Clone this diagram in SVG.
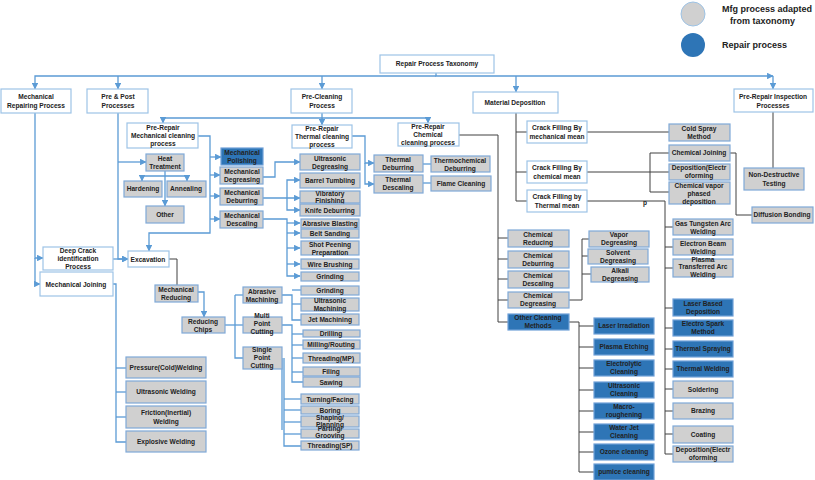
<svg xmlns="http://www.w3.org/2000/svg" width="815" height="480" viewBox="0 0 815 480">
<style>
rect{stroke-width:1.2}
.w{fill:#fff;stroke:#9dc3e6}
.g{fill:#d0d0d0;stroke:#7fa9d8}
.b{fill:#2e75b6;stroke:#6fa0d8}
text{font-family:"Liberation Sans",Arial,sans-serif;font-weight:bold;font-size:6.6px;fill:#222;text-anchor:middle}
.bl{fill:none;stroke:#5b9bd5;stroke-width:1.3}
.dk{fill:none;stroke:#404040;stroke-width:1}
.leg{font-size:9px;text-anchor:start}
</style>
<defs><marker id="a" viewBox="0 0 6 6" refX="5.5" refY="3" markerWidth="5" markerHeight="5" orient="auto"><path d="M0,0L6,3L0,6z" fill="#5b9bd5"/></marker></defs>
<g id="legend">
<circle cx="693" cy="14" r="12" fill="#d0d0d0" stroke="#9dc3e6"/>
<text class="leg" x="722" y="12">Mfg process adapted</text><text class="leg" x="730" y="24">from taxonomy</text>
<circle cx="693" cy="45" r="12" fill="#2e75b6"/>
<text class="leg" x="722" y="48">Repair process</text>
</g>
<g id="connectors">
<g class="bl" marker-end="url(#a)">
<path d="M436,73V76H773"/><path d="M436,76H35V89"/><path d="M118,76V89"/><path d="M322,76V89"/><path d="M516,76V92"/><path d="M773,76V89"/>
<path d="M322,113V118H163V123"/><path d="M322,118V125"/><path d="M322,118H428V123"/>
<path d="M35,113V258H43"/><path d="M35,258V284H40"/>
<path d="M118,113V259H128"/><path d="M113,259H128"/><path d="M118,162H146"/>
<path d="M165,171V206"/><path d="M142,176H187V181"/><path d="M142,176V181"/>
<path d="M198,136H210V233H149V251"/><path d="M210,157H221"/><path d="M210,175H220"/><path d="M210,196H220"/><path d="M210,219H220"/>
<path d="M263,177H275V162H300"/><path d="M263,198H300"/><path d="M287,198V180H300"/><path d="M287,198V210H300"/>
<path d="M263,219H287V276H300"/><path d="M287,223H300"/><path d="M287,233H300"/><path d="M287,248H300"/><path d="M287,264H300"/>
<path d="M352,136H365V163H374"/><path d="M365,163V184H374"/>
<path d="M198,292H204V317"/>
</g>
<g class="bl">
<path d="M423,164H431"/><path d="M423,183H431"/>
<path d="M225,325H235"/><path d="M235,295V358H243"/><path d="M235,295H243"/><path d="M235,325H243"/>
<path d="M282,295H292V320H301"/><path d="M292,290H301"/><path d="M292,304H301"/>
<path d="M282,325H292V382H303"/><path d="M292,334H303"/><path d="M292,345H303"/><path d="M292,358H303"/><path d="M292,372H303"/>
<path d="M282,358V430"/><path d="M284,358V446H301"/><path d="M284,399H301"/><path d="M284,410H301"/><path d="M284,422H301"/><path d="M284,434H301"/>
<path d="M113,284H116V442H126"/><path d="M116,368H126"/><path d="M116,392H126"/><path d="M116,417H126"/>
</g>
<g class="dk">
<path d="M169,259H177V285"/>
<path d="M516,113V201H527"/><path d="M516,132H527"/><path d="M516,172H527"/>
<path d="M587,132H669"/><path d="M587,172H669"/><path d="M650,153V192"/><path d="M650,153H669"/><path d="M650,192H669"/>
<path d="M730,153H736V215H752"/><path d="M773,112V168"/>
<path d="M587,201H665V454H673"/><path d="M665,227H673"/><path d="M665,247H673"/><path d="M665,268H673"/><path d="M665,308H673"/><path d="M665,328H673"/><path d="M665,349H673"/><path d="M665,369H673"/><path d="M665,389H673"/><path d="M665,411H673"/><path d="M665,434H673"/>
<path d="M459,135H498V322H508"/><path d="M498,238H508"/><path d="M498,259H508"/><path d="M498,279H508"/><path d="M498,300H508"/>
<path d="M569,300H582V239H589"/><path d="M582,256H588"/><path d="M582,274H591"/>
<path d="M569,322H579V472H594"/><path d="M579,326H594"/><path d="M579,347H594"/><path d="M579,368H594"/><path d="M579,390H594"/><path d="M579,411H594"/><path d="M579,432H594"/><path d="M579,452H594"/>
</g>
<text x="645" y="205">p</text>
</g>
<g id="n-root"><rect class="w" x="380" y="55" width="114" height="18"/><text x="437" y="66">Repair Process Taxonomy</text></g>
<g id="n-mrp"><rect class="w" x="1" y="89" width="70" height="24"/><text x="36" y="99">Mechanical</text><text x="36" y="108">Repairing Process</text></g>
<g id="n-pp"><rect class="w" x="87" y="89" width="61" height="24"/><text x="118" y="99">Pre &amp; Post</text><text x="118" y="108">Processes</text></g>
<g id="n-pc"><rect class="w" x="291" y="89" width="61" height="24"/><text x="322" y="99">Pre-Cleaning</text><text x="322" y="108">Process</text></g>
<g id="n-md"><rect class="w" x="473" y="92" width="85" height="21"/><text x="515" y="105">Material Deposition</text></g>
<g id="n-pri"><rect class="w" x="734" y="89" width="79" height="23"/><text x="773" y="99">Pre-Repair Inspection</text><text x="773" y="108">Processes</text></g>
<g id="n-pmc"><rect class="w" x="127" y="123" width="71" height="25"/><text x="163" y="130">Pre-Repair</text><text x="163" y="138">Mechanical cleaning</text><text x="163" y="146">process</text></g>
<g id="n-ptc"><rect class="w" x="292" y="125" width="60" height="23"/><text x="322" y="131">Pre-Repair</text><text x="322" y="139">Thermal cleaning</text><text x="322" y="147">process</text></g>
<g id="n-pcc"><rect class="w" x="398" y="123" width="61" height="23"/><text x="428" y="129">Pre-Repair</text><text x="428" y="137">Chemical</text><text x="428" y="145">cleaning process</text></g>
<g id="n-ht"><rect class="g" x="146" y="154" width="38" height="17"/><text x="165" y="161">Heat</text><text x="165" y="169">Treatment</text></g>
<g id="n-hard"><rect class="g" x="124" y="181" width="38" height="16"/><text x="143" y="191">Hardening</text></g>
<g id="n-ann"><rect class="g" x="167" y="181" width="39" height="16"/><text x="186" y="191">Annealing</text></g>
<g id="n-oth"><rect class="g" x="146" y="206" width="38" height="17"/><text x="165" y="217">Other</text></g>
<g id="n-mpol"><rect class="b" x="221" y="148" width="42" height="17"/><text x="242" y="155">Mechanical</text><text x="242" y="163">Polishing</text></g>
<g id="n-mdeg"><rect class="g" x="220" y="167" width="43" height="17"/><text x="242" y="174">Mechanical</text><text x="242" y="182">Degreasing</text></g>
<g id="n-mdeb"><rect class="g" x="220" y="188" width="43" height="17"/><text x="242" y="195">Mechanical</text><text x="242" y="203">Deburring</text></g>
<g id="n-mdes"><rect class="g" x="220" y="211" width="43" height="17"/><text x="242" y="218">Mechanical</text><text x="242" y="226">Descaling</text></g>
<g id="n-ud"><rect class="g" x="300" y="154" width="60" height="16"/><text x="330" y="161">Ultrasonic</text><text x="330" y="169">Degreasing</text></g>
<g id="n-bt"><rect class="g" x="300" y="173" width="60" height="15"/><text x="330" y="183">Barrel Tumbling</text></g>
<g id="n-vf"><rect class="g" x="300" y="191" width="60" height="12"/><text x="330" y="196">Vibratory</text><text x="330" y="203">Finishing</text></g>
<g id="n-kd"><rect class="g" x="300" y="204" width="60" height="12"/><text x="330" y="213">Knife Deburring</text></g>
<g id="n-ab"><rect class="g" x="301" y="219" width="58" height="9"/><text x="330" y="226">Abrasive Blasting</text></g>
<g id="n-bs"><rect class="g" x="301" y="229" width="58" height="9"/><text x="330" y="236">Belt Sanding</text></g>
<g id="n-sp"><rect class="g" x="301" y="241" width="58" height="14"/><text x="330" y="247">Shot Peening</text><text x="330" y="255">Preparation</text></g>
<g id="n-wb"><rect class="g" x="301" y="259" width="58" height="10"/><text x="330" y="267">Wire Brushing</text></g>
<g id="n-gr1"><rect class="g" x="301" y="272" width="58" height="9"/><text x="330" y="279">Grinding</text></g>
<g id="n-tdb"><rect class="g" x="374" y="155" width="49" height="17"/><text x="398" y="162">Thermal</text><text x="398" y="170">Deburring</text></g>
<g id="n-tds"><rect class="g" x="374" y="175" width="49" height="18"/><text x="398" y="182">Thermal</text><text x="398" y="190">Descaling</text></g>
<g id="n-tcd"><rect class="g" x="431" y="156" width="59" height="16"/><text x="460" y="163">Thermochemical</text><text x="460" y="171">Deburring</text></g>
<g id="n-fc"><rect class="g" x="431" y="176" width="60" height="15"/><text x="461" y="186">Flame Cleaning</text></g>
<g id="n-dci"><rect class="w" x="43" y="247" width="70" height="23"/><text x="78" y="253">Deep Crack</text><text x="78" y="261">identification</text><text x="78" y="269">Process</text></g>
<g id="n-exc"><rect class="w" x="128" y="251" width="41" height="16"/><text x="148" y="262">Excavation</text></g>
<g id="n-mj"><rect class="w" x="40" y="272" width="73" height="24"/><text x="76" y="287">Mechanical Joining</text></g>
<g id="n-mr"><rect class="g" x="155" y="285" width="43" height="17"/><text x="176" y="292">Mechanical</text><text x="176" y="300">Reducing</text></g>
<g id="n-rc"><rect class="g" x="182" y="317" width="43" height="16"/><text x="203" y="324">Reducing</text><text x="203" y="332">Chips</text></g>
<g id="n-am"><rect class="g" x="243" y="287" width="39" height="16"/><text x="262" y="294">Abrasive</text><text x="262" y="302">Machining</text></g>
<g id="n-mpc"><rect class="g" x="243" y="317" width="39" height="16"/><text x="262" y="318">Multi</text><text x="262" y="326">Point</text><text x="262" y="334">Cutting</text></g>
<g id="n-spc"><rect class="g" x="243" y="347" width="39" height="22"/><text x="262" y="352">Single</text><text x="262" y="360">Point</text><text x="262" y="368">Cutting</text></g>
<g id="n-gr2"><rect class="g" x="301" y="286" width="58" height="9"/><text x="330" y="293">Grinding</text></g>
<g id="n-um"><rect class="g" x="301" y="298" width="58" height="13"/><text x="330" y="303">Ultrasonic</text><text x="330" y="311">Machining</text></g>
<g id="n-jm"><rect class="g" x="301" y="314" width="58" height="11"/><text x="330" y="322">Jet Machining</text></g>
<g id="n-dr"><rect class="g" x="303" y="330" width="57" height="7"/><text x="331" y="336">Drilling</text></g>
<g id="n-mil"><rect class="g" x="303" y="340" width="57" height="9"/><text x="331" y="347">Milling/Routing</text></g>
<g id="n-tmp"><rect class="g" x="303" y="353" width="57" height="10"/><text x="331" y="361">Threading(MP)</text></g>
<g id="n-fil"><rect class="g" x="303" y="367" width="57" height="9"/><text x="331" y="374">Filing</text></g>
<g id="n-saw"><rect class="g" x="303" y="377" width="57" height="10"/><text x="331" y="385">Sawing</text></g>
<g id="n-tf"><rect class="g" x="301" y="394" width="58" height="10"/><text x="330" y="402">Turning/Facing</text></g>
<g id="n-bor"><rect class="g" x="301" y="406" width="58" height="8"/><text x="330" y="413">Boring</text></g>
<g id="n-shp"><rect class="g" x="301" y="416" width="58" height="11"/><text x="330" y="420">Shaping/</text><text x="330" y="427">Planning</text></g>
<g id="n-par"><rect class="g" x="301" y="429" width="58" height="9"/><text x="330" y="431">Parting/</text><text x="330" y="438">Grooving</text></g>
<g id="n-tsp"><rect class="g" x="301" y="441" width="58" height="9"/><text x="330" y="448">Threading(SP)</text></g>
<g id="n-pw"><rect class="g" x="126" y="357" width="80" height="21"/><text x="166" y="370">Pressure(Cold)Welding</text></g>
<g id="n-uw"><rect class="g" x="126" y="381" width="80" height="22"/><text x="166" y="394">Ultrasonic Welding</text></g>
<g id="n-fw"><rect class="g" x="126" y="406" width="80" height="22"/><text x="166" y="415">Friction(Inertial)</text><text x="166" y="424">Welding</text></g>
<g id="n-ew"><rect class="g" x="126" y="431" width="80" height="21"/><text x="166" y="444">Explosive Welding</text></g>
<g id="n-cfm"><rect class="w" x="527" y="121" width="60" height="22"/><text x="557" y="130">Crack Filling By</text><text x="557" y="139">mechanical mean</text></g>
<g id="n-cfc"><rect class="w" x="527" y="161" width="60" height="22"/><text x="557" y="170">Crack Filling By</text><text x="557" y="179">chemical mean</text></g>
<g id="n-cft"><rect class="w" x="527" y="190" width="60" height="22"/><text x="557" y="199">Crack Filling by</text><text x="557" y="208">Thermal mean</text></g>
<g id="n-cs"><rect class="g" x="669" y="124" width="61" height="17"/><text x="699" y="131">Cold Spray</text><text x="699" y="139">Method</text></g>
<g id="n-cj"><rect class="g" x="669" y="145" width="61" height="16"/><text x="699" y="155">Chemical Joining</text></g>
<g id="n-de1"><rect class="g" x="669" y="164" width="61" height="16"/><text x="699" y="170">Deposition(Electr</text><text x="699" y="178">oforming</text></g>
<g id="n-cvd"><rect class="g" x="669" y="182" width="61" height="22"/><text x="699" y="188">Chemical vapor</text><text x="699" y="196">phased</text><text x="699" y="204">deposition</text></g>
<g id="n-ndt"><rect class="g" x="744" y="168" width="60" height="22"/><text x="774" y="177">Non-Destructive</text><text x="774" y="186">Testing</text></g>
<g id="n-db"><rect class="g" x="752" y="207" width="61" height="16"/><text x="782" y="217">Diffusion Bonding</text></g>
<g id="n-gta"><rect class="g" x="673" y="219" width="60" height="16"/><text x="703" y="226">Gas Tungsten Arc</text><text x="703" y="234">Welding</text></g>
<g id="n-ebw"><rect class="g" x="673" y="239" width="60" height="16"/><text x="703" y="246">Electron Beam</text><text x="703" y="254">Welding</text></g>
<g id="n-pta"><rect class="g" x="673" y="259" width="60" height="18"/><text x="703" y="262">Plasma</text><text x="703" y="269">Transferred Arc</text><text x="703" y="277">Welding</text></g>
<g id="n-lbd"><rect class="b" x="673" y="299" width="60" height="17"/><text x="703" y="306">Laser Based</text><text x="703" y="314">Deposition</text></g>
<g id="n-esm"><rect class="b" x="673" y="320" width="60" height="16"/><text x="703" y="326">Electro Spark</text><text x="703" y="334">Method</text></g>
<g id="n-ts"><rect class="b" x="673" y="341" width="60" height="16"/><text x="703" y="351">Thermal Spraying</text></g>
<g id="n-tw"><rect class="b" x="673" y="361" width="60" height="16"/><text x="703" y="371">Thermal Welding</text></g>
<g id="n-sol"><rect class="g" x="673" y="381" width="60" height="17"/><text x="703" y="392">Soldering</text></g>
<g id="n-bra"><rect class="g" x="673" y="403" width="60" height="16"/><text x="703" y="413">Brazing</text></g>
<g id="n-coa"><rect class="g" x="673" y="426" width="60" height="17"/><text x="703" y="437">Coating</text></g>
<g id="n-de2"><rect class="g" x="673" y="446" width="60" height="16"/><text x="703" y="452">Deposition(Electr</text><text x="703" y="460">oforming</text></g>
<g id="n-cr"><rect class="g" x="508" y="230" width="61" height="17"/><text x="538" y="237">Chemical</text><text x="538" y="245">Reducing</text></g>
<g id="n-cdb"><rect class="g" x="508" y="251" width="61" height="17"/><text x="538" y="258">Chemical</text><text x="538" y="266">Deburring</text></g>
<g id="n-cds"><rect class="g" x="508" y="271" width="61" height="17"/><text x="538" y="278">Chemical</text><text x="538" y="286">Descaling</text></g>
<g id="n-cdg"><rect class="g" x="508" y="292" width="61" height="16"/><text x="538" y="298">Chemical</text><text x="538" y="306">Degreasing</text></g>
<g id="n-ocm"><rect class="b" x="508" y="314" width="61" height="16"/><text x="538" y="320">Other Cleaning</text><text x="538" y="328">Methods</text></g>
<g id="n-vd"><rect class="g" x="589" y="231" width="60" height="16"/><text x="619" y="237">Vapor</text><text x="619" y="245">Degreasing</text></g>
<g id="n-sd"><rect class="g" x="588" y="249" width="60" height="15"/><text x="618" y="255">Solvent</text><text x="618" y="263">Degreasing</text></g>
<g id="n-ad"><rect class="g" x="591" y="267" width="58" height="15"/><text x="620" y="273">Alkali</text><text x="620" y="281">Degreasing</text></g>
<g id="n-li"><rect class="b" x="594" y="318" width="60" height="16"/><text x="624" y="328">Laser Irradiation</text></g>
<g id="n-pe"><rect class="b" x="594" y="339" width="60" height="16"/><text x="624" y="349">Plasma Etching</text></g>
<g id="n-ec"><rect class="b" x="594" y="360" width="60" height="16"/><text x="624" y="366">Electrolytic</text><text x="624" y="374">Cleaning</text></g>
<g id="n-uc"><rect class="b" x="594" y="382" width="60" height="16"/><text x="624" y="388">Ultrasonic</text><text x="624" y="396">Cleaning</text></g>
<g id="n-mac"><rect class="b" x="594" y="403" width="60" height="16"/><text x="624" y="409">Macro-</text><text x="624" y="417">roughening</text></g>
<g id="n-wj"><rect class="b" x="594" y="424" width="60" height="16"/><text x="624" y="430">Water Jet</text><text x="624" y="438">Cleaning</text></g>
<g id="n-oz"><rect class="b" x="594" y="444" width="60" height="16"/><text x="624" y="454">Ozone cleaning</text></g>
<g id="n-pum"><rect class="b" x="594" y="464" width="60" height="16"/><text x="624" y="474">pumice cleaning</text></g>
</svg>
